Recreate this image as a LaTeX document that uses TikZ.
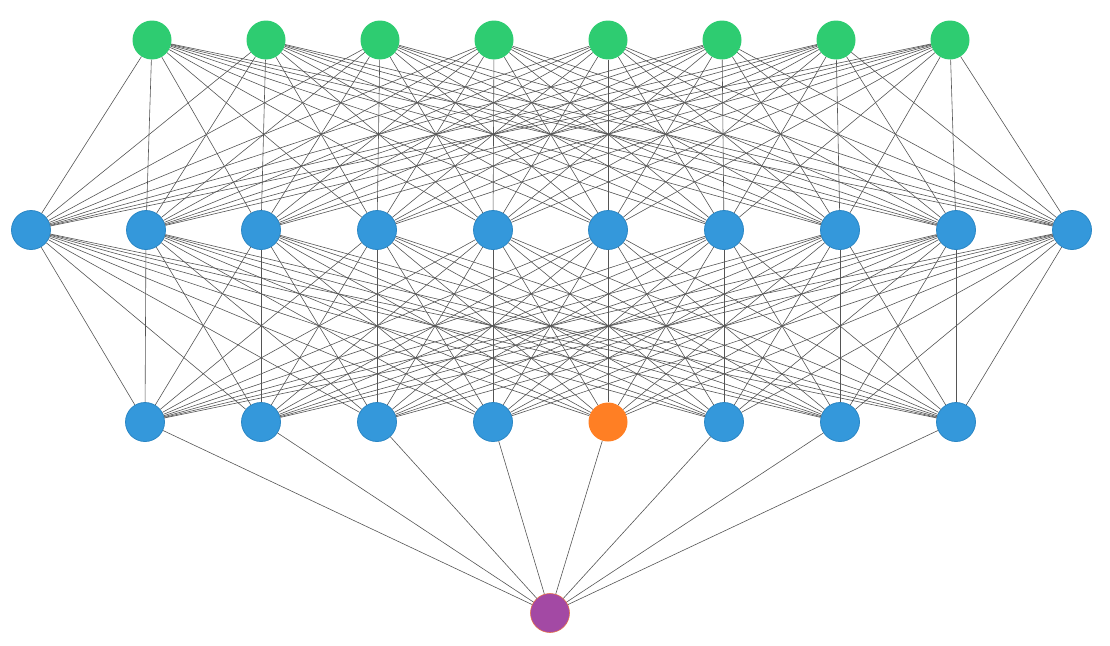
\documentclass[tikz,border=0pt]{standalone}
\definecolor{cg}{HTML}{2ECC71}
\definecolor{cb}{HTML}{3498DB}
\definecolor{cbo}{HTML}{2A86C4}
\definecolor{co}{HTML}{FF7F24}
\definecolor{cp}{HTML}{A349A4}
\definecolor{ce}{HTML}{555555}
\begin{document}
\begin{tikzpicture}[x=1pt,y=-1pt,
  nd/.style={circle,inner sep=0pt,minimum size=39pt},
  gn/.style={nd,fill=cg},
  bn/.style={nd,fill=cb,draw=cbo,line width=0.8pt},
  on/.style={nd,fill=co},
  pn/.style={nd,fill=cp,draw=co!70!cp,line width=0.6pt},
  ed/.style={draw=ce,line width=0.6pt}]
\useasboundingbox (0,0) rectangle (1110,645);
\foreach \x [count=\i] in {152,266,380,494,608,722,836,950}
  \node[gn] (a\i) at (\x,40) {};
\foreach \x [count=\i] in {31,146,261,377,493,608,724,840,956,1072}
  \node[bn] (b\i) at (\x,230) {};
\foreach \x [count=\i] in {145,261,377,493,608,724,840,956}{
  \ifnum\i=5 \node[on] (c\i) at (\x,422) {};
  \else \node[bn] (c\i) at (\x,422) {};\fi}
\node[pn] (d) at (550,613) {};
\foreach \i in {1,...,8}
  \foreach \j in {1,...,10}
    \draw[ed] (a\i) -- (b\j);
\foreach \i in {1,...,10}
  \foreach \j in {1,...,8}
    \draw[ed] (b\i) -- (c\j);
\foreach \j in {1,...,8}
  \draw[ed] (c\j) -- (d);
\end{tikzpicture}
\end{document}
